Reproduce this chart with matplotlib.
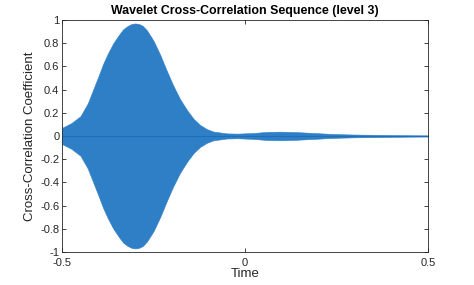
import matplotlib
matplotlib.use("Agg")
import matplotlib.pyplot as plt

# envelope of the cross-correlation sequence
time = [-0.5, -0.475, -0.45, -0.43, -0.415, -0.40, -0.388, -0.375, -0.36, -0.345,
        -0.333, -0.32, -0.31, -0.30, -0.29, -0.28, -0.268, -0.25, -0.232, -0.215,
        -0.197, -0.178, -0.158, -0.14, -0.123, -0.105, -0.087, -0.05, -0.02, 0.02,
        0.06, 0.10, 0.14, 0.18, 0.22, 0.26, 0.30, 0.35, 0.40, 0.45, 0.5]
upper = [0.07, 0.11, 0.17, 0.28, 0.40, 0.52, 0.62, 0.71, 0.80, 0.87,
         0.92, 0.95, 0.965, 0.97, 0.965, 0.95, 0.91, 0.82, 0.70, 0.57,
         0.44, 0.32, 0.22, 0.145, 0.095, 0.06, 0.038, 0.022, 0.02, 0.025,
         0.035, 0.037, 0.033, 0.027, 0.02, 0.015, 0.012, 0.01, 0.008, 0.006, 0.005]
lower = [-v for v in upper]

xticks = [-0.5, 0, 0.5]
xticklabels = ["-0.5", "0", "0.5"]
yticks = [-1, -0.8, -0.6, -0.4, -0.2, 0, 0.2, 0.4, 0.6, 0.8, 1]
yticklabels = ["-1", "-0.8", "-0.6", "-0.4", "-0.2", "0", "0.2", "0.4", "0.6", "0.8", "1"]

BLUE = "#2f7fc6"
INK = "#262626"

plt.rcParams["font.family"] = ["Liberation Sans", "DejaVu Sans"]

fig = plt.figure(figsize=(4.74, 2.85), dpi=100)
ax = fig.add_axes([0.131, 0.116, 0.772, 0.814])

ax.fill_between(time, lower, upper, color=BLUE, lw=0.4, edgecolor=BLUE)
ax.plot(time, [0] * len(time), color="#1f6fb8", lw=0.8)

ax.set_xlim(-0.5, 0.5)
ax.set_ylim(-1, 1)
ax.set_xticks(xticks)
ax.set_xticklabels(xticklabels)
ax.set_yticks(yticks)
ax.set_yticklabels(yticklabels)

ax.tick_params(direction="in", length=3, width=0.6, colors=INK, labelsize=8,
               top=True, right=True)
ax.tick_params(axis="x", pad=4.5)
ax.tick_params(axis="y", pad=2)
for s in ax.spines.values():
    s.set_color(INK)
    s.set_linewidth(0.6)

ax.set_title("Wavelet Cross-Correlation Sequence (level 3)", fontsize=8.9,
             fontweight="bold", color="black", pad=4)
ax.set_xlabel("Time", fontsize=9.5, color=INK, labelpad=0)
ax.set_ylabel("Cross-Correlation Coefficient", fontsize=9.5, color=INK, labelpad=3)

fig.savefig("out.png", dpi=100)
